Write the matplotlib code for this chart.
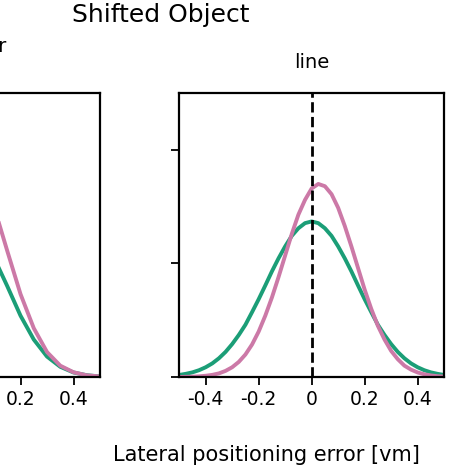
import matplotlib
matplotlib.use("Agg")
import matplotlib.pyplot as plt

x = [-0.5,-0.45,-0.4,-0.35,-0.3,-0.25,-0.2,-0.15,-0.1,-0.05,0,0.05,0.1,0.15,0.2,0.25,0.3,0.35,0.4,0.45,0.5]
xf = [-0.5,-0.475,-0.45,-0.425,-0.4,-0.375,-0.35,-0.325,-0.3,-0.275,-0.25,-0.225,-0.2,-0.175,-0.15,-0.125,-0.1,-0.075,-0.05,-0.025,
      0,0.025,0.05,0.075,0.1,0.125,0.15,0.175,0.2,0.225,0.25,0.275,0.3,0.325,0.35,0.375,0.4,0.425,0.45,0.475,0.5]
# right panel ("line")
line_green = [0.018,0.028,0.041,0.060,0.086,0.120,0.165,0.221,0.29,0.370,0.46,0.571,0.685,0.806,0.93,1.045,1.15,1.243,1.31,1.355,
              1.37,1.355,1.31,1.243,1.15,1.045,0.93,0.806,0.685,0.571,0.46,0.370,0.29,0.221,0.165,0.120,0.086,0.060,0.041,0.028,0.018]
line_pink = [0.0,0.002,0.003,0.006,0.011,0.019,0.032,0.054,0.086,0.133,0.198,0.286,0.40,0.54,0.70,0.88,1.07,1.26,1.43,1.56,
             1.66,1.70,1.68,1.61,1.49,1.33,1.15,0.96,0.77,0.60,0.45,0.33,0.23,0.157,0.10,0.065,0.04,0.024,0.014,0.007,0.004]
# left panel (cut off)
left_pink_half = [1.9,1.80,1.50,1.11,0.73,0.43,0.22,0.10,0.042,0.015,0.005]
left_green_half = [1.3,1.23,1.05,0.80,0.54,0.33,0.18,0.09,0.04,0.016,0.005]
left_pink = left_pink_half[:0:-1] + left_pink_half
left_green = left_green_half[:0:-1] + left_green_half

xticks = [-0.4,-0.2,0,0.2,0.4]
xticklabels = ["-0.4","-0.2","0","0.2","0.4"]
GREEN = "#1b9e77"
PINK = "#cc79a7"

fig = plt.figure(figsize=(4.74,4.74), dpi=100)
axL = fig.add_axes([-0.348,0.2046,0.559,0.599])
axR = fig.add_axes([0.378,0.2046,0.559,0.599])
for ax, xs, g, p in [(axL,x,left_green,left_pink),(axR,xf,line_green,line_pink)]:
    ax.plot(xs, g, color=GREEN, lw=2.8)
    ax.plot(xs, p, color=PINK, lw=2.8)
    ax.axvline(0, color="black", ls="--", lw=2)
    ax.set_xlim(-0.5,0.5)
    ax.set_ylim(0,2.5)
    ax.set_xticks(xticks)
    ax.set_xticklabels(xticklabels, fontsize=13.5)
    ax.set_yticks([0,1,2])
    ax.set_yticklabels([])
    ax.tick_params(length=6, width=1.3)
    for s in ax.spines.values():
        s.set_linewidth(1.6)
axR.set_title("line", fontsize=14, pad=18)
fig.text(7/474, 1-47/474, "color", fontsize=14, ha="right", va="center")
fig.text(161/474, 1-15/474, "Shifted Object", fontsize=18, ha="center", va="center")
fig.text(420/474, 1-455/474, "Lateral positioning error [vm]", fontsize=15, ha="right", va="center")
fig.savefig("out.png", dpi=100)
